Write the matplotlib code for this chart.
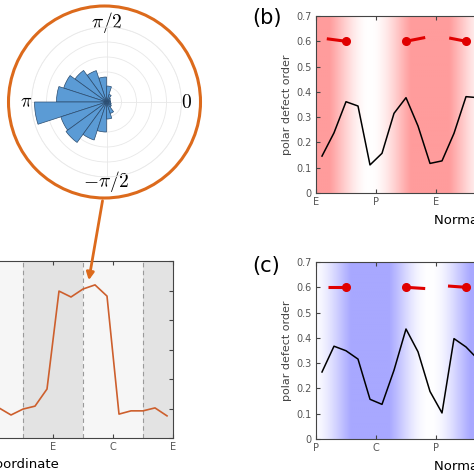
import numpy as np
import matplotlib
matplotlib.use('Agg')
from matplotlib import pyplot as plt
from matplotlib.patches import Circle, FancyArrowPatch
from matplotlib.colors import to_rgb

plt.rcParams['mathtext.fontset'] = 'cm'

# rose histogram of the defect orientation (bin centres in degrees)
rose_deg = [9, 27, 45, 63, 81, 99, 117, 135, 153, 171,
            189, 207, 225, 243, 261, 279, 297, 315, 333, 351]
rose_val = [0.0053, 0.0053, 0.0067, 0.0107, 0.0213, 0.0333, 0.044, 0.052, 0.06, 0.0667,
            0.096, 0.064, 0.0667, 0.0533, 0.04, 0.0227, 0.016, 0.008, 0.0067, 0.0053]

# left panel (orange curve)
x_a = [3.1, 3.3, 3.5, 3.7, 3.9, 4.1, 4.3, 4.5, 4.7, 4.9, 5.1, 5.3, 5.5, 5.7, 5.9]
order_a = [0.102, 0.078, 0.098, 0.108, 0.166, 0.498, 0.478, 0.505, 0.519, 0.481,
           0.081, 0.092, 0.092, 0.102, 0.075]
band_edges_a = [0, 0.5, 1.5, 2.5, 3.5, 4.5, 5.5, 6]
dash_a = [0.5, 1.5, 2.5, 3.5, 4.5, 5.5]
ticks_a = [4, 5, 6]
ticklab_a = ['E', 'C', 'E']

# panel (b)
x_b = [0.1, 0.3, 0.5, 0.7, 0.9, 1.1, 1.3, 1.5, 1.7, 1.9, 2.1, 2.3, 2.5, 2.7]
order_b = [0.146, 0.238, 0.361, 0.344, 0.111, 0.157, 0.315, 0.377, 0.265, 0.117,
           0.127, 0.236, 0.381, 0.377]
dot_x_b = [0.5, 1.5, 2.5]
tail_x_b = [0.18, 1.82, 2.22]
tail_y_b = [0.61, 0.615, 0.613]
ticklab_b = ['E', 'P', 'E', 'P', 'E', 'P', 'E']

# panel (c)
x_c = x_b
order_c = [0.265, 0.367, 0.349, 0.316, 0.157, 0.137, 0.272, 0.435, 0.345, 0.188,
           0.103, 0.397, 0.364, 0.315]
dot_x_c = [0.5, 1.5, 2.5]
tail_x_c = [0.2, 1.82, 2.2]
tail_y_c = [0.6, 0.595, 0.605]
ticklab_c = ['P', 'C', 'P', 'C', 'P', 'C', 'P']

W = 474.0
orange = '#dc6a1c'
tickcol = '#555555'


def px_box(left, top, width, height):
    return [left / W, 1 - (top + height) / W, width / W, height / W]


def style_axes(ax):
    for s in ax.spines.values():
        s.set_color('#444444')
        s.set_linewidth(0.8)
    ax.tick_params(direction='in', top=True, right=True, length=3, width=0.8,
                   labelsize=7, colors='#444444', labelcolor=tickcol, pad=3)


def gradient(ax, peak, shift, phase):
    xs = np.linspace(0, 6, 900)
    if phase == 'cos':
        inten = np.cos(np.pi * (xs + shift) / 2) ** 2
    else:
        inten = np.sin(np.pi * (xs + shift) / 2) ** 2
    inten = np.clip(1.3 * inten, 0, 1)
    c = np.array(to_rgb(peak))
    img = (1 - inten[:, None]) * np.ones(3) + inten[:, None] * c
    ax.imshow(img[None, :, :], extent=[0, 6, 0, 0.7], aspect='auto', zorder=0,
              interpolation='bilinear')


def defects(ax, dots, tails_x, tails_y):
    for dx, tx, ty in zip(dots, tails_x, tails_y):
        ax.plot([tx, dx], [ty, 0.6], color='#e00000', lw=2.2, solid_capstyle='butt', zorder=3)
        ax.plot(dx, 0.6, 'o', color='#e00000', ms=5.5, zorder=4)


fig = plt.figure(figsize=(4.74, 4.74), dpi=100)

# ---- polar inset ----
axp = fig.add_axes(px_box(31.5, 27, 150, 150), projection='polar')
axp.bar(np.deg2rad(rose_deg), rose_val, width=np.deg2rad(18), color='#5b9bd5',
        edgecolor='#2b4c6f', linewidth=0.5, zorder=3)
axp.set_ylim(0, 0.1)
axp.set_yticks([0.02, 0.04, 0.06, 0.08, 0.1])
axp.set_yticklabels([])
axp.set_thetagrids([0, 90, 180, 270], [r'$0$', r'$\pi/2$', r'$\pi$', r'$-\pi/2$'],
                   fontsize=14)
axp.tick_params(pad=-7)
axp.grid(color='#e8e8e8', lw=0.6)
axp.spines['polar'].set_color('#e8e8e8')
axp.spines['polar'].set_linewidth(0.6)

fig.add_artist(Circle((104.5 / W, 1 - 102 / W), 96 / W, transform=fig.transFigure,
                      fill=False, ec=orange, lw=2.2, zorder=5))
fig.add_artist(FancyArrowPatch((103 / W, 1 - 198 / W), (88.3 / W, 1 - 283 / W),
                               transform=fig.transFigure, arrowstyle='-|>',
                               mutation_scale=11, color=orange, lw=2, zorder=6))

# ---- left panel ----
axa = fig.add_axes(px_box(-187, 261, 360, 177))
for i in range(len(band_edges_a) - 1):
    col = '#e3e3e3' if i % 2 == 0 else '#f6f6f6'
    axa.axvspan(band_edges_a[i], band_edges_a[i + 1], color=col, lw=0, zorder=0)
for d in dash_a:
    axa.axvline(d, color='#9a9a9a', lw=0.8, ls=(0, (4, 3)), zorder=1)
axa.plot(x_a, order_a, color='#cd5f2d', lw=1.2, zorder=3)
axa.set_xlim(0, 6)
axa.set_ylim(0, 0.6)
axa.set_xticks(ticks_a)
axa.set_xticklabels(ticklab_a)
axa.set_yticks([0, 0.1, 0.2, 0.3, 0.4, 0.5, 0.6])
style_axes(axa)
axa.set_xlabel('Normalized coordinate', fontsize=9.5, ha='right', va='center')
axa.xaxis.set_label_coords((59 + 187) / 360, -26 / 177)

# ---- panel (b) ----
axb = fig.add_axes(px_box(316, 16, 360, 177))
gradient(axb, '#ff9c9c', 0.1, 'cos')
axb.plot(x_b, order_b, color='black', lw=1.1, zorder=2)
defects(axb, dot_x_b, tail_x_b, tail_y_b)
axb.set_xlim(0, 6)
axb.set_ylim(0, 0.7)
axb.set_xticks(range(7))
axb.set_xticklabels(ticklab_b)
axb.set_yticks([0, 0.1, 0.2, 0.3, 0.4, 0.5, 0.6, 0.7])
axb.set_yticklabels(['0', '0.1', '0.2', '0.3', '0.4', '0.5', '0.6', '0.7'])
style_axes(axb)
axb.set_ylabel('polar defect order', fontsize=8, color='#444444', labelpad=3)
axb.set_xlabel('Normalized coordinate', fontsize=9.5, ha='left', va='center')
axb.xaxis.set_label_coords((434 - 316) / 360, -27 / 177)
fig.text(252 / W, 1 - 18 / W, '(b)', fontsize=15, va='center', ha='left')

# ---- panel (c) ----
axc = fig.add_axes(px_box(316, 262, 360, 177))
gradient(axc, '#a8a8ff', 0.1, 'sin')
axc.plot(x_c, order_c, color='black', lw=1.1, zorder=2)
defects(axc, dot_x_c, tail_x_c, tail_y_c)
axc.set_xlim(0, 6)
axc.set_ylim(0, 0.7)
axc.set_xticks(range(7))
axc.set_xticklabels(ticklab_c)
axc.set_yticks([0, 0.1, 0.2, 0.3, 0.4, 0.5, 0.6, 0.7])
axc.set_yticklabels(['0', '0.1', '0.2', '0.3', '0.4', '0.5', '0.6', '0.7'])
style_axes(axc)
axc.set_ylabel('polar defect order', fontsize=8, color='#444444', labelpad=3)
axc.set_xlabel('Normalized coordinate', fontsize=9.5, ha='left', va='center')
axc.xaxis.set_label_coords((434 - 316) / 360, -27 / 177)
fig.text(252 / W, 1 - 266 / W, '(c)', fontsize=15, va='center', ha='left')

fig.savefig('out.png', dpi=100)
